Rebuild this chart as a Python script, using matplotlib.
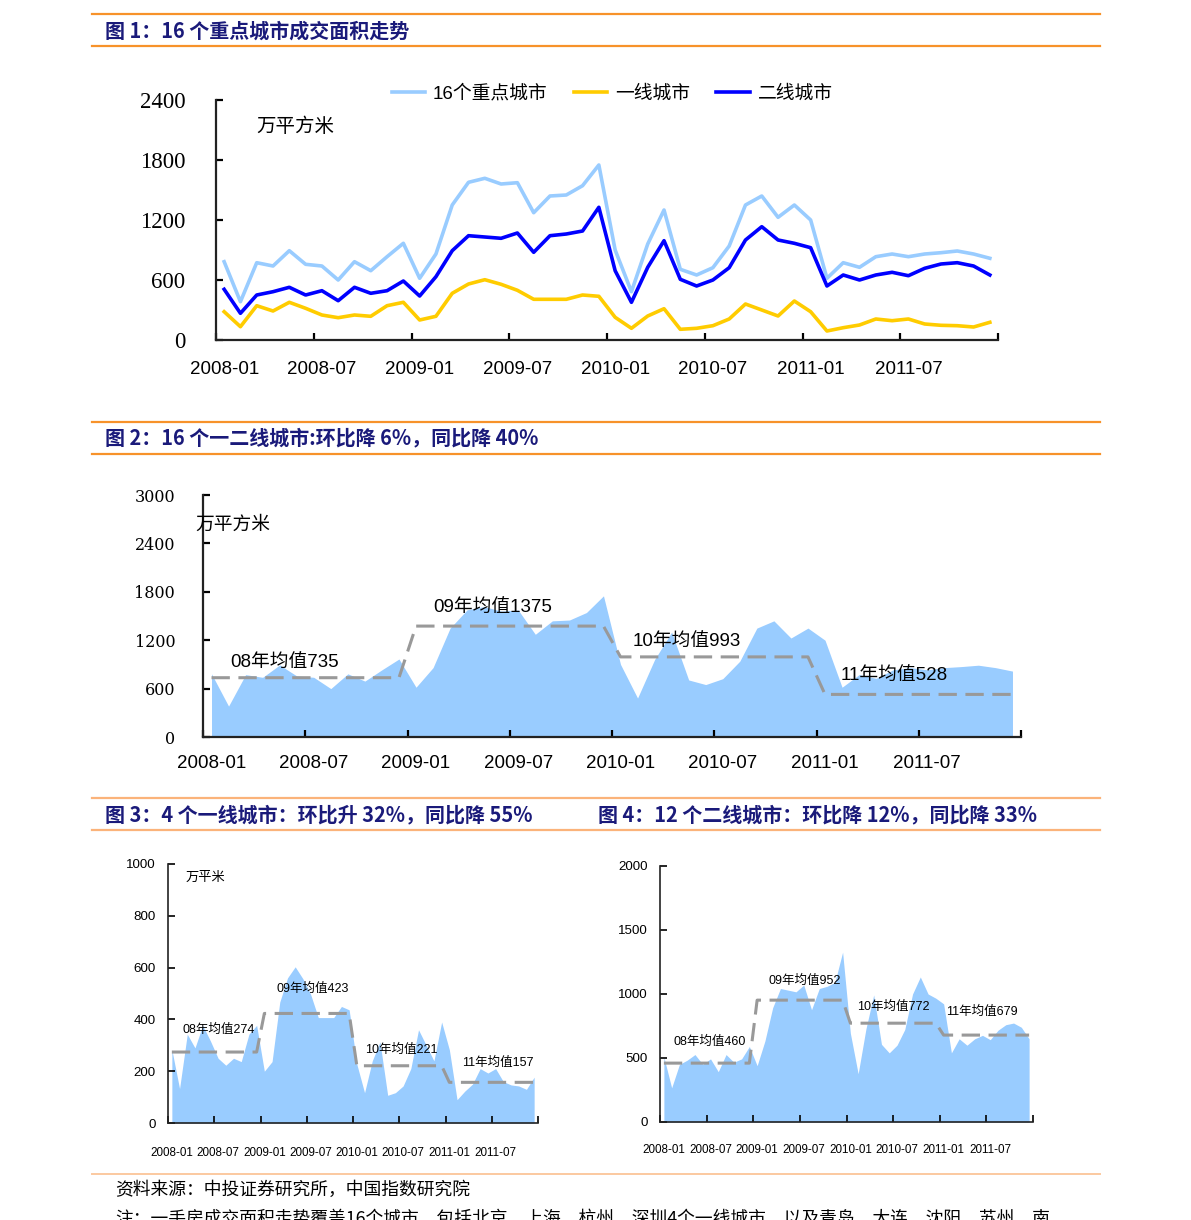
import numpy as np
import matplotlib
matplotlib.use('Agg')
import matplotlib.pyplot as plt
from matplotlib.lines import Line2D

# ---- data (万平方米, monthly 2008-01 .. 2011-12) ----
city16 = [783, 383, 773, 740, 893, 757, 740, 600, 783, 693, 833, 967,
          617, 860, 1350, 1577, 1617, 1560, 1573, 1273, 1440, 1450, 1543, 1750,
          900, 483, 960, 1300, 707, 650, 723, 940, 1350, 1440, 1227, 1350,
          1200, 617, 773, 727, 833, 860, 833, 860, 873, 890, 860, 817]
tier1 = [283, 133, 343, 290, 377, 317, 250, 223, 250, 237, 343, 377,
         200, 237, 467, 560, 603, 557, 497, 407, 407, 407, 450, 437,
         227, 117, 240, 313, 107, 117, 143, 210, 360, 300, 240, 390,
         283, 90, 123, 150, 210, 193, 210, 160, 147, 143, 130, 177]
tier2 = [507, 267, 450, 483, 527, 450, 493, 393, 527, 467, 493, 590,
         440, 633, 893, 1043, 1030, 1017, 1070, 877, 1043, 1060, 1090, 1327,
         693, 377, 727, 993, 607, 540, 600, 723, 1000, 1133, 1000, 967,
         923, 540, 650, 600, 650, 677, 643, 717, 760, 773, 740, 650]

years = ['08', '09', '10', '11']
mean16 = [735, 1375, 993, 528]
mean_t1 = [274, 423, 221, 157]
mean_t2 = [460, 952, 772, 679]

tick_labels = ['2008-01', '2008-07', '2009-01', '2009-07',
               '2010-01', '2010-07', '2011-01', '2011-07']
series_names = ['16个重点城市', '一线城市', '二线城市']

# ---- fonts ----
CJK = 'Noto Sans CJK SC'
SANS = 'Liberation Sans'
plt.rcParams['font.family'] = [SANS, CJK]

W, H = 1191, 1220
fig = plt.figure(figsize=(W / 100, H / 100), dpi=100)
n = len(city16)
x = np.arange(n)


def px_axes(l, t, r, b):
    return fig.add_axes([l / W, 1 - b / H, (r - l) / W, (b - t) / H])


def setup(ax, ymax, ystep, yfont, ysize, ypad, xsize, xpad, spine_w=1.5):
    ax.set_xlim(-0.5, n - 0.5)
    ax.set_ylim(0, ymax)
    for s in ['top', 'right']:
        ax.spines[s].set_visible(False)
    for s in ['left', 'bottom']:
        ax.spines[s].set_linewidth(spine_w)
        ax.spines[s].set_color('#222222')
    ax.set_yticks(np.arange(0, ymax + 1, ystep))
    ax.tick_params(axis='y', direction='in', length=5, width=spine_w, pad=ypad, labelsize=ysize)
    for t in ax.get_yticklabels():
        t.set_fontfamily(yfont)
    # ticks sit between categories, labels on the category itself
    ax.set_xticks(np.arange(-0.5, n, 6))
    ax.set_xticks(np.arange(0, n, 6), minor=True)
    ax.set_xticklabels(tick_labels, minor=True)
    ax.tick_params(axis='x', which='major', direction='in', length=5, width=spine_w, labelbottom=False)
    ax.tick_params(axis='x', which='minor', length=0, pad=xpad, labelsize=xsize)
    for t in ax.get_xticklabels(minor=True):
        t.set_fontfamily([SANS])


def header(y_top, y_bot, color, items):
    for yy in (y_top, y_bot):
        fig.add_artist(Line2D([92 / W, 1100 / W], [1 - yy / H] * 2, color=color, lw=1.6))
    for xx, yy, s in items:
        fig.text(xx / W, 1 - yy / H, s, fontsize=14.4, fontweight='bold', color='#1a1a7a',
                 family=[CJK], va='center', ha='left')


# ---- headers ----
header(14, 46, '#F7922A', [(105, 31, '图 1：16 个重点城市成交面积走势')])
header(422, 454, '#F7922A', [(105, 438, '图 2：16 个一二线城市:环比降 6%，同比降 40%')])
header(798, 830, '#FBB37A', [(105, 815, '图 3：4 个一线城市：环比升 32%，同比降 55%'),
                             (598, 815, '图 4：12 个二线城市：环比降 12%，同比降 33%')])

# ---- chart 1: lines ----
ax1 = px_axes(216, 100, 998, 340)
setup(ax1, 2400, 600, ['Liberation Serif'], 16.5, 22, 13.5, 15, spine_w=1.6)
colors = ['#99CCFF', '#FFCC00', '#0000FF']
for vals, c, lab in zip([city16, tier1, tier2], colors, series_names):
    ax1.plot(x, vals, color=c, lw=2.6, label=lab)
ax1.legend(loc='center', bbox_to_anchor=(612 / W, 1 - 94 / H), bbox_transform=fig.transFigure,
           ncol=3, frameon=False, handlelength=1.8, handletextpad=0.4,
           columnspacing=1.4, prop={'family': [SANS, CJK], 'size': 13.5})
fig.text(256 / W, 1 - 127 / H, '万平方米', fontsize=14, family=[CJK], va='center', ha='left')


# ---- area charts with yearly means ----
def area_chart(box, vals, means, ymax, ystep, yfont, ysize, ypad, xsize, xpad,
               label_pos, label_size, spine_w, unit, unit_xy, unit_size):
    ax = px_axes(*box)
    setup(ax, ymax, ystep, yfont, ysize, ypad, xsize, xpad, spine_w=spine_w)
    ax.fill_between(x, vals, color='#99CCFF', lw=0)
    ax.plot(x, np.repeat(means, 12), color='#999999', lw=2.2, ls=(0, (6, 2.8)))
    for yy, m, (lx, ly) in zip(years, means, label_pos):
        ax.text(lx, ly, f'{yy}年均值{m}', fontsize=label_size, family=[SANS, CJK],
                va='center', ha='left')
    if unit:
        fig.text(unit_xy[0] / W, 1 - unit_xy[1] / H, unit, fontsize=unit_size, family=[CJK],
                 va='center', ha='left')
    return ax


area_chart((203, 495, 1021, 737), city16, mean16, 3000, 600,
           ['DejaVu Serif'], 11.5, 20, 13.5, 13,
           [(1.1, 928), (13.0, 1611), (24.7, 1189), (36.9, 767)],
           13.5, 1.6, '万平方米', (195, 524), 13.5)

area_chart((168, 864, 538, 1123), tier1, mean_t1, 1000, 200,
           [SANS], 9.6, 9, 8.4, 17,
           [(1.4, 359), (13.6, 517), (25.0, 281), (37.6, 231)],
           9, 1.2, '万平米', (186, 877), 9.5)

area_chart((660, 866, 1033, 1122), tier2, mean_t2, 2000, 500,
           [SANS], 9.6, 9, 8.4, 16,
           [(1.3, 625), (13.5, 1099), (24.8, 898), (36.3, 859)],
           9, 1.2, '', (0, 0), 9.5)

# ---- footer ----
fig.add_artist(Line2D([92 / W, 1100 / W], [1 - 1174 / H] * 2, color='#FBC9A0', lw=1.4))
fig.text(115 / W, 1 - 1190 / H, '资料来源：中投证券研究所，中国指数研究院', fontsize=12.8,
         family=[CJK], va='center', ha='left')
fig.text(115 / W, 1 - 1219 / H,
         '注：一手房成交面积走势覆盖16个城市，包括北京、上海、杭州、深圳4个一线城市，以及青岛、大连、沈阳、苏州、南',
         fontsize=12.8, family=[CJK], va='center', ha='left')

fig.savefig('out.png', dpi=100)
